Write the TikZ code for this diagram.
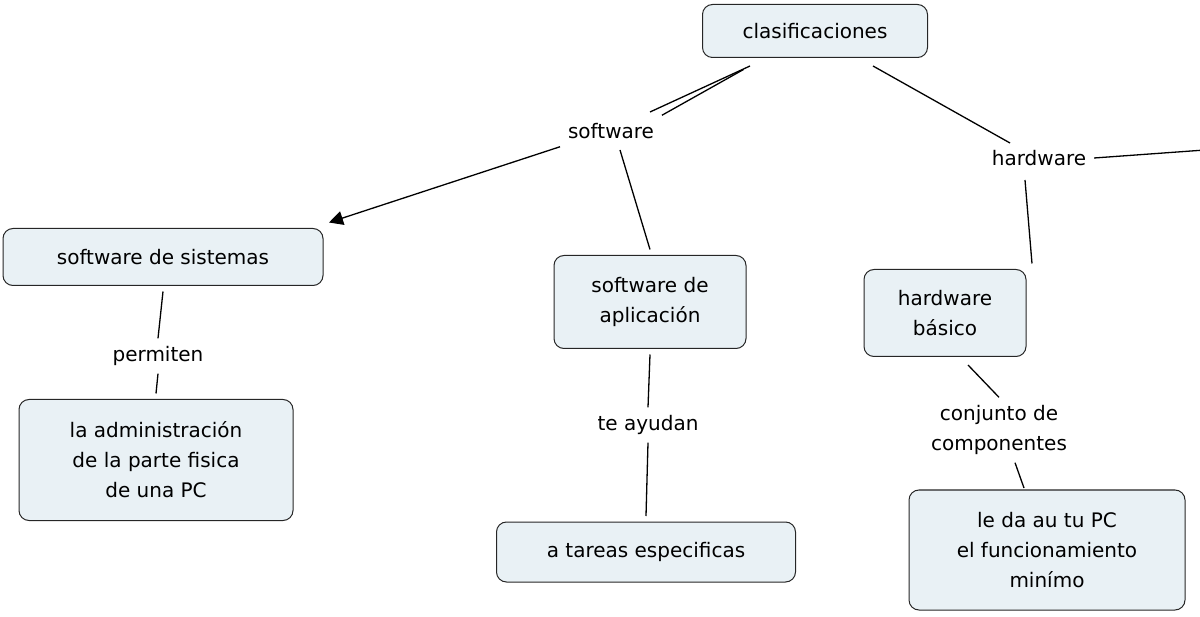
\documentclass[tikz,border=0pt]{standalone}
\usepackage{fontspec}
\setmainfont{DejaVu Sans}
\usetikzlibrary{arrows.meta}
\definecolor{boxfill}{HTML}{E9F1F5}
\begin{document}
\begin{tikzpicture}[x=1pt,y=-1pt,
  box/.style={draw=black!85,fill=boxfill,rounded corners=10pt,line width=1pt,align=center,font=\fontsize{20}{30}\selectfont,inner sep=0pt,outer sep=6pt},
  lbl/.style={align=center,font=\fontsize{20}{30}\selectfont,inner sep=2pt,outer sep=6pt},
  ln/.style={line width=1.3pt}]
\useasboundingbox (0,0) rectangle (1200,617);
\node[box,minimum width=225,minimum height=53] (cl) at (815,31) {clasificaciones};
\node[lbl] (sw) at (611,131) {software};
\node[lbl] (hw) at (1039,158) {hardware};
\node[box,minimum width=320,minimum height=57] (ss) at (163,257) {software de sistemas};
\node[box,minimum width=192,minimum height=93] (sa) at (650,302) {software de\\aplicación};
\node[box,minimum width=162,minimum height=87] (hb) at (945,313) {hardware\\básico};
\node[lbl] (pe) at (158,356) {permiten};
\node[box,minimum width=274,minimum height=121] (ad) at (156,460) {la administración\\de la parte fisica\\de una PC};
\node[lbl] (ta) at (648,425) {te ayudan};
\node[box,minimum width=299,minimum height=60] (te) at (646,552) {a tareas especificas};
\node[lbl] (cc) at (999,430) {conjunto de\\componentes};
\node[box,minimum width=276,minimum height=120] (ld) at (1047,550) {le da au tu PC\\el funcionamiento\\minímo};
\coordinate (off) at (1205,150);
\draw[ln] (cl.south west)++(47,6) coordinate (a1) -- (sw.north east) ++(0,0);
\draw[ln] (750,66) -- (650,112);
\draw[ln] (873,66) -- (1010,143);
\draw[ln,-{Triangle[length=14pt,width=14pt]}] (sw.south west) -- (ss.north east);
\draw[ln] (620,150) -- (sa.north);
\draw[ln] (hw.east) -- (off);
\draw[ln] (1025,180) -- (hb.north east);
\draw[ln] (ss.south) -- (pe.north);
\draw[ln] (pe.south) -- (ad.north);
\draw[ln] (sa.south) -- (ta.north);
\draw[ln] (ta.south) -- (te.north);
\draw[ln] (968,365) -- (cc.north);
\draw[ln] (cc.south) ++(16,0) -- (1024,488);
\end{tikzpicture}
\end{document}
